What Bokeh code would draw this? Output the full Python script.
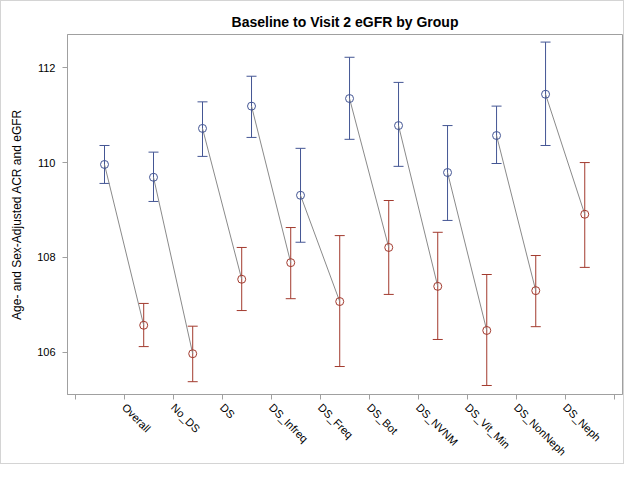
import math
from bokeh.plotting import figure
from bokeh.models import ColumnDataSource, Whisker, TeeHead, FixedTicker, Range1d
from bokeh.embed import file_html
from bokeh.resources import INLINE

# ---- data ----
groups = ["Overall", "No_DS", "DS", "DS_Infreq", "DS_Freq", "DS_Bot",
          "DS_NVNM", "DS_Vit_Min", "DS_NonNeph", "DS_Neph"]
baseline_mean = [109.96, 109.69, 110.72, 111.19, 109.31, 111.35, 110.78, 109.79, 110.57, 111.44]
baseline_lower = [109.56, 109.18, 110.13, 110.53, 108.32, 110.49, 109.92, 108.78, 109.98, 110.36]
baseline_upper = [110.36, 110.22, 111.28, 111.82, 110.30, 112.22, 111.69, 110.78, 111.19, 112.54]
visit2_mean = [106.57, 105.97, 107.54, 107.89, 107.07, 108.21, 107.39, 106.46, 107.30, 108.91]
visit2_lower = [106.12, 105.38, 106.88, 107.13, 105.70, 107.22, 106.27, 105.30, 106.54, 107.79]
visit2_upper = [107.03, 106.55, 108.21, 108.63, 108.46, 109.20, 108.53, 107.64, 108.04, 110.00]
y_ticks = [106, 108, 110, 112]

# ---- layout / style ----
BLUE = "#445694"
RED = "#A23A2E"
GRAY_LINE = "#8a8a8a"
FRAME = "#a0a0a0"
FONT = "Liberation Sans"
OFFSET = 0.4

pos = list(range(1, len(groups) + 1))
bx = [p_ - OFFSET for p_ in pos]
rx = [p_ + OFFSET for p_ in pos]

p = figure(width=624, height=464, output_backend="svg", toolbar_location=None,
           x_range=Range1d(-0.155, 11.17), y_range=Range1d(105.11, 112.70),
           min_border_left=66, min_border_right=3, min_border_top=33, min_border_bottom=71,
           title="Baseline to Visit 2 eGFR by Group")
p.styles = {"border": "1px solid #d4d4d4"}

p.title.align = "center"
p.title.text_font = FONT
p.title.text_font_size = "14px"
p.title.text_font_style = "bold"
p.title.text_color = "black"

p.grid.visible = False
p.outline_line_color = FRAME
p.outline_line_width = 1

src_b = ColumnDataSource(dict(x=bx, m=baseline_mean, lo=baseline_lower, hi=baseline_upper))
src_r = ColumnDataSource(dict(x=rx, m=visit2_mean, lo=visit2_lower, hi=visit2_upper))

# connecting lines
p.segment(x0=bx, y0=baseline_mean, x1=rx, y1=visit2_mean, line_color=GRAY_LINE, line_width=1)

# error bars
for src, col in ((src_b, BLUE), (src_r, RED)):
    w = Whisker(source=src, base="x", upper="hi", lower="lo", line_color=col, line_width=1,
                upper_head=TeeHead(size=10, line_color=col, line_width=1),
                lower_head=TeeHead(size=10, line_color=col, line_width=1))
    p.add_layout(w)

p.scatter("x", "m", source=src_b, marker="circle", size=8, fill_color=None,
          line_color=BLUE, line_width=1)
p.scatter("x", "m", source=src_r, marker="circle", size=8, fill_color=None,
          line_color=RED, line_width=1)

# axes
for ax in (p.xaxis[0], p.yaxis[0]):
    ax.axis_line_color = FRAME
    ax.major_tick_line_color = FRAME
    ax.minor_tick_line_color = None
    ax.major_tick_out = 5
    ax.major_tick_in = 0
    ax.major_label_text_font = FONT
    ax.major_label_text_font_size = "11px"
    ax.major_label_text_color = "black"

p.yaxis.ticker = FixedTicker(ticks=y_ticks)
p.yaxis.major_label_standoff = 7
p.yaxis.axis_label = "Age- and Sex-Adjusted ACR and eGFR"
p.yaxis.axis_label_text_font = FONT
p.yaxis.axis_label_text_font_size = "12px"
p.yaxis.axis_label_text_font_style = "normal"
p.yaxis.axis_label_text_color = "black"
p.yaxis.axis_label_standoff = 10

x_ticks = list(range(0, len(groups) + 2))
p.xaxis.ticker = FixedTicker(ticks=x_ticks)
overrides = {0: "", len(groups) + 1: ""}
for i, g in zip(pos, groups):
    overrides[i] = g
p.xaxis.major_label_overrides = overrides
p.xaxis.major_label_orientation = -math.pi / 4
p.xaxis.major_label_standoff = 6

open("out.html", "w").write(file_html(p, INLINE))
